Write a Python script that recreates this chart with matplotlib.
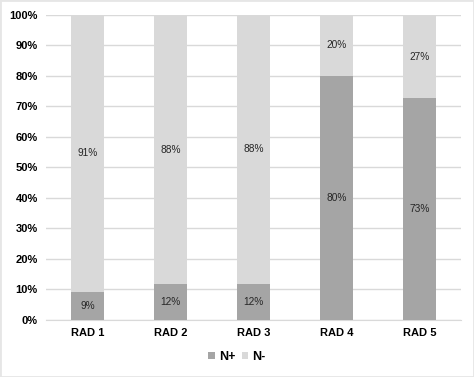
import matplotlib
matplotlib.use('Agg')
import matplotlib.pyplot as plt
from matplotlib.patches import Rectangle

# data
categories = ['RAD 1', 'RAD 2', 'RAD 3', 'RAD 4', 'RAD 5']
n_pos = [9.1, 11.6, 11.8, 80.0, 72.7]
n_neg = [100 - v for v in n_pos]
y_ticks = [0, 10, 20, 30, 40, 50, 60, 70, 80, 90, 100]

c_pos = '#a5a5a5'
c_neg = '#d9d9d9'

plt.rcParams['font.family'] = ['Liberation Sans', 'DejaVu Sans']

fig = plt.figure(figsize=(4.74, 3.77), dpi=100)
ax = fig.add_axes([46/474, 1 - 319.5/377, 415/474, 304.5/377])

x = list(range(len(categories)))
w = 0.40
ax.bar(x, n_pos, width=w, color=c_pos, label='N+', zorder=3)
ax.bar(x, n_neg, width=w, bottom=n_pos, color=c_neg, label='N-', zorder=3)

for i in x:
    ax.text(i, n_pos[i] / 2, f'{n_pos[i]:.0f}%', ha='center', va='center',
            fontsize=7.3, color='#262626', zorder=4)
    ax.text(i, n_pos[i] + n_neg[i] / 2, f'{n_neg[i]:.0f}%', ha='center', va='center',
            fontsize=7.3, color='#262626', zorder=4)

ax.set_xlim(-0.5, len(categories) - 0.5)
ax.set_ylim(0, 100)
ax.set_yticks(y_ticks)
ax.set_yticklabels([f'{t}%' for t in y_ticks], fontweight='bold', fontsize=8)
ax.set_xticks(x)
ax.set_xticklabels(categories, fontweight='bold', fontsize=8)
ax.tick_params(length=0, pad=6)
ax.yaxis.grid(True, color='#d9d9d9', linewidth=1, zorder=0)
for s in ['top', 'right', 'left']:
    ax.spines[s].set_visible(False)
ax.spines['bottom'].set_color('#d9d9d9')

ax.legend(loc='center', bbox_to_anchor=(237/474, 1 - 357/377), bbox_transform=fig.transFigure,
          ncol=2, frameon=False, handlelength=0.5, handleheight=0.5, handletextpad=0.35,
          columnspacing=0.5, prop={'weight': 'bold', 'size': 9})

fig.patches.append(Rectangle((0, 0), 1, 1, transform=fig.transFigure, fill=False,
                             edgecolor='#e6e6e6', linewidth=2))

fig.savefig('out.png', dpi=100)
